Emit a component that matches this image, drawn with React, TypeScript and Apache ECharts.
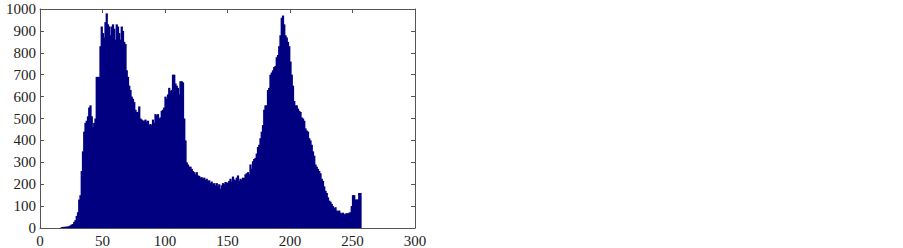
import React, { useEffect, useRef } from "react";
import * as echarts from "echarts";

// Histogram counts, one per intensity bin, starting at binStart
const binStart = 17;
const counts = [
  4, 5, 5, 6, 6, 7, 8, 12, 16, 18, 28, 36, 55, 72, 130, 150, 260, 350, 440, 480,
  490, 510, 550, 560, 510, 460, 480, 500, 690, 690, 690, 830, 920, 890, 870, 940,
  980, 930, 920, 880, 920, 930, 910, 860, 930, 920, 890, 860, 920, 900, 850, 840,
  720, 690, 650, 630, 600, 590, 575, 540, 530, 530, 555, 500, 495, 490, 490, 495,
  485, 490, 470, 475, 470, 495, 480, 520, 515, 520, 500, 505, 535, 540, 550, 600,
  590, 610, 640, 625, 630, 700, 700, 660, 650, 640, 610, 670, 670, 665, 500, 400,
  300, 290, 280, 280, 270, 260, 255, 245, 255, 240, 238, 230, 232, 225, 230, 220,
  225, 215, 218, 205, 212, 200, 205, 195, 205, 190, 200, 178, 195, 205, 200, 210,
  208, 205, 215, 225, 212, 235, 222, 218, 230, 240, 215, 225, 220, 230, 228, 245,
  250, 255, 245, 290, 270, 305, 315, 320, 340, 370, 380, 410, 440, 470, 540, 560,
  560, 630, 640, 700, 710, 720, 735, 740, 780, 790, 830, 880, 960, 970, 930, 880,
  870, 850, 830, 760, 700, 650, 580, 560, 560, 545, 535, 530, 505, 500, 490, 455,
  445, 440, 410, 400, 380, 350, 330, 290, 280, 270, 260, 250, 225, 215, 190, 170,
  160, 140, 125, 120, 110, 100, 90, 95, 80, 75, 80, 70, 65, 70, 62, 65,
  68, 65, 70, 72, 100, 150, 150, 130, 130, 130, 160, 160,
];

const xMin = 0;
const xMax = 300;
const xStep = 50;
const yMin = 0;
const yMax = 1000;
const yStep = 100;

export default function App() {
  const ref = useRef<HTMLDivElement>(null);

  useEffect(() => {
    if (!ref.current) return;
    const chart = echarts.init(ref.current, undefined, { renderer: "svg" });
    const axisColor = "#555";
    const font = "'Liberation Serif', 'Times New Roman', serif";
    const baseX = {
      type: "value" as const,
      min: xMin,
      max: xMax,
      interval: xStep,
      axisLine: { show: true, onZero: false, lineStyle: { color: axisColor, width: 1 } },
      axisTick: { show: true, inside: true, length: 4, lineStyle: { color: axisColor } },
      splitLine: { show: false },
    };
    const baseY = {
      type: "value" as const,
      min: yMin,
      max: yMax,
      interval: yStep,
      axisLine: { show: true, onZero: false, lineStyle: { color: axisColor, width: 1 } },
      axisTick: { show: true, inside: true, length: 4, lineStyle: { color: axisColor } },
      splitLine: { show: false },
    };
    chart.setOption({
      animation: false,
      backgroundColor: "#ffffff",
      grid: { left: 40, top: 9, width: 375, height: 220 },
      xAxis: [
        {
          ...baseX,
          position: "bottom",
          axisLabel: {
            color: "#222",
            fontFamily: font,
            fontSize: 15,
            margin: 5,
            formatter: (v: number) => String(v),
          },
        },
        { ...baseX, position: "top", axisLabel: { show: false } },
      ],
      yAxis: [
        {
          ...baseY,
          position: "left",
          axisLabel: {
            color: "#222",
            fontFamily: font,
            fontSize: 15,
            margin: 4,
            formatter: (v: number) => String(v),
          },
        },
        { ...baseY, position: "right", axisLabel: { show: false } },
      ],
      series: [
        {
          type: "custom",
          xAxisIndex: 0,
          yAxisIndex: 0,
          encode: { x: 0, y: 1 },
          data: counts.map((c, i) => [binStart + i, c]),
          renderItem: (params: any, api: any) => {
            const x = api.value(0);
            const y = api.value(1);
            const p0 = api.coord([x - 0.5, y]);
            const p1 = api.coord([x + 0.5, 0]);
            return {
              type: "rect",
              shape: {
                x: p0[0],
                y: p0[1],
                width: p1[0] - p0[0] + 1,
                height: p1[1] - p0[1],
              },
              style: { fill: "#000080" },
            };
          },
        },
      ],
    });
    return () => chart.dispose();
  }, []);

  return (
    <div
      ref={ref}
      style={{ position: "fixed", left: 0, top: 0, width: 903, height: 248, background: "#fff" }}
    />
  );
}
